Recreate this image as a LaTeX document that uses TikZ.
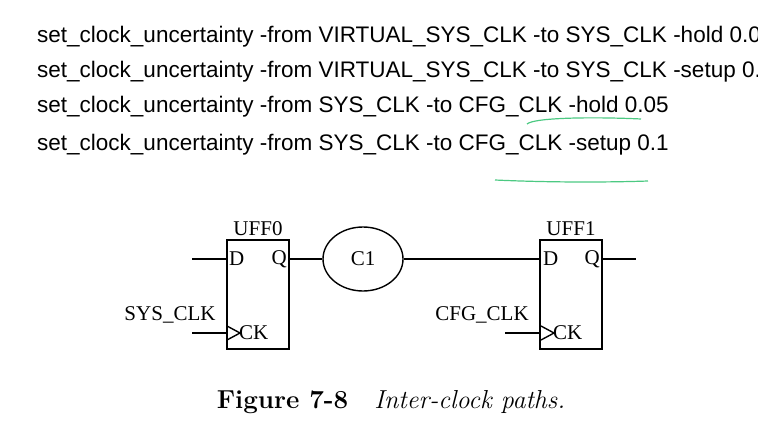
\documentclass[tikz,border=0pt]{standalone}
\usepackage{fontspec}
\setmainfont{Liberation Serif}
\newfontfamily\cmdfont{Liberation Sans}
\newfontfamily\capfont{Latin Modern Roman}
\usetikzlibrary{positioning,shapes.geometric,calc}
\tikzset{
  wire/.style={line width=1.4pt},
  ff/.style={draw, wire, minimum width=62pt, minimum height=109pt, inner sep=0pt},
  cmd/.style={anchor=west, font=\cmdfont\fontsize{22.5}{24}\selectfont, inner sep=0pt},
  lbl/.style={font=\fontsize{21}{23}\selectfont, inner sep=1pt},
  penmark/.style={draw=teal!60!green!70, line width=1.2pt}
}
\begin{document}
\begin{tikzpicture}[x=1pt,y=-1pt]
	  \useasboundingbox (0,0) rectangle (758,439);
	  \node [cmd] (l1) at (37,37) {set\_clock\_uncertainty -from VIRTUAL\_SYS\_CLK -to SYS\_CLK -hold 0.05};
	  \node [cmd] (l2) at (37,72) {set\_clock\_uncertainty -from VIRTUAL\_SYS\_CLK -to SYS\_CLK -setup 0.3};
	  \node [cmd] (l3) at (37,107) {set\_clock\_uncertainty -from SYS\_CLK -to CFG\_CLK -hold 0.05};
	  \node [cmd] (l4) at (37,145) {set\_clock\_uncertainty -from SYS\_CLK -to CFG\_CLK -setup 0.1};

	  \draw [penmark] (527,124) .. controls (535,117) and (600,117) .. (641,119);
	  \draw [penmark] (495,180) .. controls (560,183) and (620,182) .. (648,181);

	  \node [ff] (uff0) at (258,294.5) {};
	  \node [ff] (uff1) at (571,294.5) {};
	  \node [lbl, above=2pt of uff0] {UFF0};
	  \node [lbl, above=2pt of uff1] {UFF1};

	  \coordinate (d0) at (227,259);
	  \coordinate (q0) at (289,259);
	  \coordinate (ck0) at (227,333);
	  \coordinate (d1) at (541,259);
	  \coordinate (q1) at (602,259);
	  \coordinate (ck1) at (541,333);
	  \coordinate (in0) at (192,259);
	  \coordinate (out1) at (636,259);
	  \coordinate (clk0) at (192,333);
	  \coordinate (clk1) at (505,333);

	  \node [lbl, right=1pt of d0] {D};
	  \node [lbl, left=1pt of q0] {Q};
	  \node [lbl, right=1pt of d1] {D};
	  \node [lbl, left=1pt of q1] {Q};
	  \node [lbl, right=11pt of ck0] {CK};
	  \node [lbl, right=11pt of ck1] {CK};
	  \draw [wire] ($(ck0)+(0,-7)$) -- ($(ck0)+(13,0)$) -- ($(ck0)+(0,7)$);
	  \draw [wire] ($(ck1)+(0,-7)$) -- ($(ck1)+(13,0)$) -- ($(ck1)+(0,7)$);

	  \node [draw, wire, ellipse, minimum width=80pt, minimum height=64pt, lbl] (c1) at (363,259) {C1};

	  \draw [wire] (in0) -- (d0);
	  \draw [wire] (q0) -- (c1);
	  \draw [wire] (c1) -- (d1);
	  \draw [wire] (q1) -- (out1);
	  \draw [wire] (clk0) -- (ck0);
	  \draw [wire] (clk1) -- (ck1);
	  \node [lbl] (sys) at (170,315) {SYS\_CLK};
	  \node [lbl] (cfg) at (482,315) {CFG\_CLK};

	  \node [font=\capfont\fontsize{26}{28}\selectfont] (cap) at (391,402) {\textbf{Figure 7-8}\quad\textit{Inter-clock paths.}};
\end{tikzpicture}
\end{document}
